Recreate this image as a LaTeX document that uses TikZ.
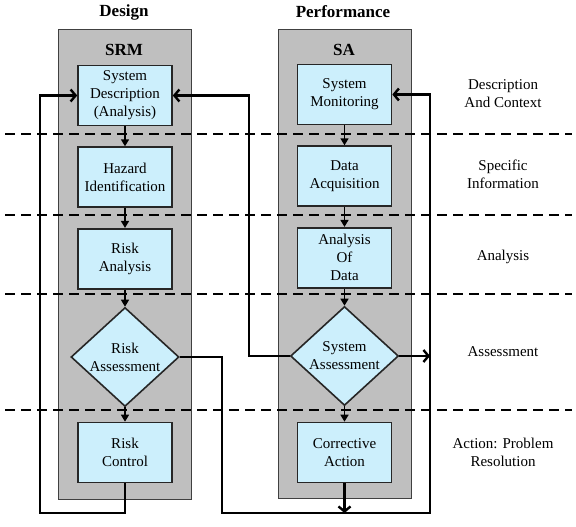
\documentclass[tikz,border=0pt]{standalone}
\usepackage{fontspec}
\setmainfont{Liberation Serif}
\usetikzlibrary{positioning, shapes.geometric, arrows.meta}

\begin{document}
\begin{tikzpicture}[x=1pt, y=-1pt, font=\fontsize{15}{18}\selectfont]
    % Define styles
    \tikzstyle{column} = [rectangle, minimum width=133pt, minimum height=469pt, draw=black!75, line width=1pt, fill=black!25]
    \tikzstyle{title} = [font=\fontsize{17}{20}\selectfont\bfseries]
    \tikzstyle{process} = [rectangle, minimum width=94pt, minimum height=60pt, align=center, inner sep=2pt, draw=black!85, line width=1.6pt, fill=cyan!20]
    \tikzstyle{decision} = [diamond, aspect=1.1, minimum width=108pt, minimum height=99pt, inner sep=0pt, align=center, draw=black!85, line width=1.6pt, fill=cyan!20]
    \tikzstyle{level} = [align=center]
    \tikzstyle{divider} = [dash pattern=on 10pt off 6pt, line width=1.6pt]
    \tikzstyle{flow} = [line width=1.6pt, -{Triangle[length=7pt, width=8pt]}]
    \tikzstyle{arrow} = [line width=2.4pt, -{Straight Barb[length=5pt, width=12pt]}]

    \useasboundingbox (0,0) rectangle (576,527);

    % Columns
    \node (srmcol) [column] at (124.5,264.5) {};
    \node (sacol) [column] at (344.5,264) {};
    \node (design) [title] at (124,12) {Design};
    \node (perf) [title] at (343,12) {Performance};
    \node (srm) [title] at (124,50) {SRM};
    \node (sa) [title] at (344,50) {SA};

    % Dividers
    \draw [divider] (5,134) -- (572,134);
    \draw [divider] (5,215) -- (572,215);
    \draw [divider] (5,294) -- (572,294);
    \draw [divider] (5,410) -- (572,410);

    % Nodes
    \node (sysdesc) [process] at (125,95.5) {System\\Description\\(Analysis)};
    \node (hazard) [process, below=20pt of sysdesc] {Hazard\\Identification};
    \node (riskan) [process, below=20pt of hazard] {Risk\\Analysis};
    \node (riskass) [decision] at (125,357) {Risk\\Assessment};
    \node (ctrl) [process] at (125,452.5) {Risk\\Control};

    \node (sysmon) [process] at (344.5,94.5) {System\\Monitoring};
    \node (dataacq) [process, below=20pt of sysmon] {Data\\Acquisition};
    \node (anadata) [process, below=20pt of dataacq] {Analysis\\Of\\Data};
    \node (sysass) [decision] at (344.5,356) {System\\Assessment};
    \node (corr) [process] at (344.5,452.5) {Corrective\\Action};

    \node (lvlctx) [level] at (503,94) {Description\\And Context};
    \node (lvlinfo) [level] at (503,174) {Specific\\Information};
    \node (lvlana) [level] at (503,257) {Analysis};
    \node (lvlass) [level] at (503,352) {Assessment};
    \node (lvlact) [level] at (503,452.5) {Action: Problem\\Resolution};

    \coordinate (lloop) at (40,513);
    \coordinate (midx) at (249,356);
    \coordinate (lbot) at (222,513);
    \coordinate (rbot) at (430,513);

    % Arrows
    \draw [flow] (sysdesc) -- (hazard);
    \draw [flow] (hazard) -- (riskan);
    \draw [flow] (riskan) -- (riskass);
    \draw [flow] (riskass) -- (ctrl);
    \draw [flow] (sysmon) -- (dataacq);
    \draw [flow] (dataacq) -- (anadata);
    \draw [flow] (anadata) -- (sysass);
    \draw [flow] (sysass) -- (corr);

    \draw [arrow] (ctrl.south) |- (lloop) |- (sysdesc.west);
    \draw [arrow] (sysass.west) -- (sysass.west -| midx) |- (sysdesc.east);
    \draw [arrow] (riskass.east) -| (lbot) -- (rbot) |- (sysmon.east);
    \draw [arrow] (sysass.east) -- (sysass.east -| rbot);
    \draw [arrow] (corr.south) -- (corr.south |- rbot);
\end{tikzpicture}
\end{document}
